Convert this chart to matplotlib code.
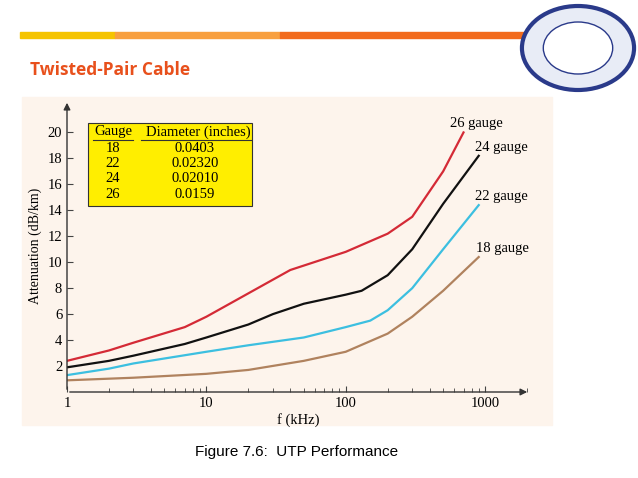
import matplotlib
matplotlib.use("Agg")
import matplotlib.pyplot as plt
from matplotlib.patches import Rectangle, Circle

f26 = [1, 2, 3, 7, 10, 20, 40, 100, 200, 300, 500, 700]
a26 = [2.4, 3.2, 3.8, 5.0, 5.8, 7.6, 9.4, 10.8, 12.2, 13.5, 17.0, 20.0]
f24 = [1, 2, 3, 7, 10, 20, 30, 50, 100, 130, 200, 300, 500, 900]
a24 = [1.9, 2.4, 2.8, 3.7, 4.2, 5.2, 6.0, 6.8, 7.5, 7.8, 9.0, 11.0, 14.5, 18.2]
f22 = [1, 2, 3, 10, 20, 50, 100, 150, 200, 300, 500, 900]
a22 = [1.3, 1.8, 2.2, 3.1, 3.6, 4.2, 5.0, 5.5, 6.3, 8.0, 11.0, 14.4]
f18 = [1, 3, 10, 20, 50, 100, 200, 300, 500, 900]
a18 = [0.9, 1.1, 1.4, 1.7, 2.4, 3.1, 4.5, 5.8, 7.8, 10.4]
gauges = ["18", "22", "24", "26"]
diams = ["0.0403", "0.02320", "0.02010", "0.0159"]

W, H = 638, 478
fig = plt.figure(figsize=(6.38, 4.78), dpi=100)
fig.patch.set_facecolor("white")
def fx(p): return p / W
def fy(p): return 1 - p / H

for x0, x1, c in [(20, 115, "#f5c400"), (115, 280, "#f8a040"), (280, 530, "#f26b1d")]:
    fig.patches.append(Rectangle((fx(x0), fy(38)), fx(x1 - x0), 6 / H, color=c,
                                 transform=fig.transFigure, zorder=-2))
fig.text(fx(30), fy(70), "Twisted-Pair Cable", color="#e8501c", fontsize=12.5, fontweight="bold",
         family="Open Sans", va="center")
fig.patches.append(Circle((fx(578), fy(48)), 42 / H, transform=fig.transFigure,
                          facecolor="#e8ecf6", edgecolor="#2a3a8a", lw=3, zorder=-2))
fig.patches.append(Circle((fx(578), fy(48)), 26 / H, transform=fig.transFigure,
                          facecolor="white", edgecolor="#2a3a8a", lw=1, zorder=-2))
fig.patches.append(Rectangle((fx(22), fy(425)), fx(530), 328 / H, color="#fdf4ec",
                             transform=fig.transFigure, zorder=-2))

ax = fig.add_axes([fx(67), fy(392), fx(463), 292 / H])
ax.set_facecolor("none")
ax.set_xscale("log")
ax.set_xlim(1, 2100)
ax.set_ylim(0, 22.5)
for f, a, c in [(f26, a26, "#d42a36"), (f24, a24, "#111111"), (f22, a22, "#3cbfe0"), (f18, a18, "#b0825e")]:
    ax.plot(f, a, color=c, lw=1.6)
ser = dict(family="Liberation Serif", fontsize=10.5)
ax.text(560, 20.4, "26 gauge", **ser)
ax.text(840, 18.6, "24 gauge", **ser)
ax.text(840, 14.8, "22 gauge", **ser)
ax.text(860, 10.8, "18 gauge", **ser)
for s in ["top", "right", "left", "bottom"]:
    ax.spines[s].set_visible(False)
ax.annotate("", xy=(0, 1.0), xytext=(0, 0), xycoords="axes fraction",
            arrowprops=dict(arrowstyle="-|>", color="#333333", lw=1, mutation_scale=10))
ax.annotate("", xy=(1.0, 0), xytext=(0, 0), xycoords="axes fraction",
            arrowprops=dict(arrowstyle="-|>", color="#333333", lw=1, mutation_scale=10))
ax.set_yticks(range(2, 21, 2))
ax.set_xticks([1, 10, 100, 1000])
ax.set_xticklabels(["1", "10", "100", "1000"], **ser)
ax.set_yticklabels([str(v) for v in range(2, 21, 2)], **ser)
ax.tick_params(axis="both", direction="in", length=4, color="#444444")
ax.tick_params(axis="x", which="minor", direction="in", length=3, color="#444444")
ax.set_xlabel("f (kHz)", labelpad=2, **ser)
ax.set_ylabel("Attenuation (dB/km)", labelpad=4, family="Liberation Serif", fontsize=10)

fig.patches.append(Rectangle((fx(88), fy(206)), fx(164), 83 / H, facecolor="#ffee00",
                             edgecolor="#333333", lw=0.8, transform=fig.transFigure, zorder=3))
tser = dict(family="Liberation Serif", fontsize=10.5, ha="center", va="center", zorder=4)
fig.text(fx(113), fy(132), "Gauge", **tser)
fig.text(fx(198), fy(132), "Diameter (inches)", **tser)
for x0, x1 in [(93, 133), (141, 255 - 4)]:
    fig.add_artist(plt.Line2D([fx(x0), fx(x1)], [fy(140), fy(140)], color="#333333", lw=0.8, zorder=4))
for i, (g, d) in enumerate(zip(gauges, diams)):
    y = 148 + i * 15.5
    fig.text(fx(113), fy(y), g, **tser)
    fig.text(fx(195), fy(y), d, **tser)

fig.text(fx(297), fy(452), "Figure 7.6:  UTP Performance", family="Liberation Sans", fontsize=11,
         ha="center", va="center")
fig.savefig("out.png", dpi=100)
